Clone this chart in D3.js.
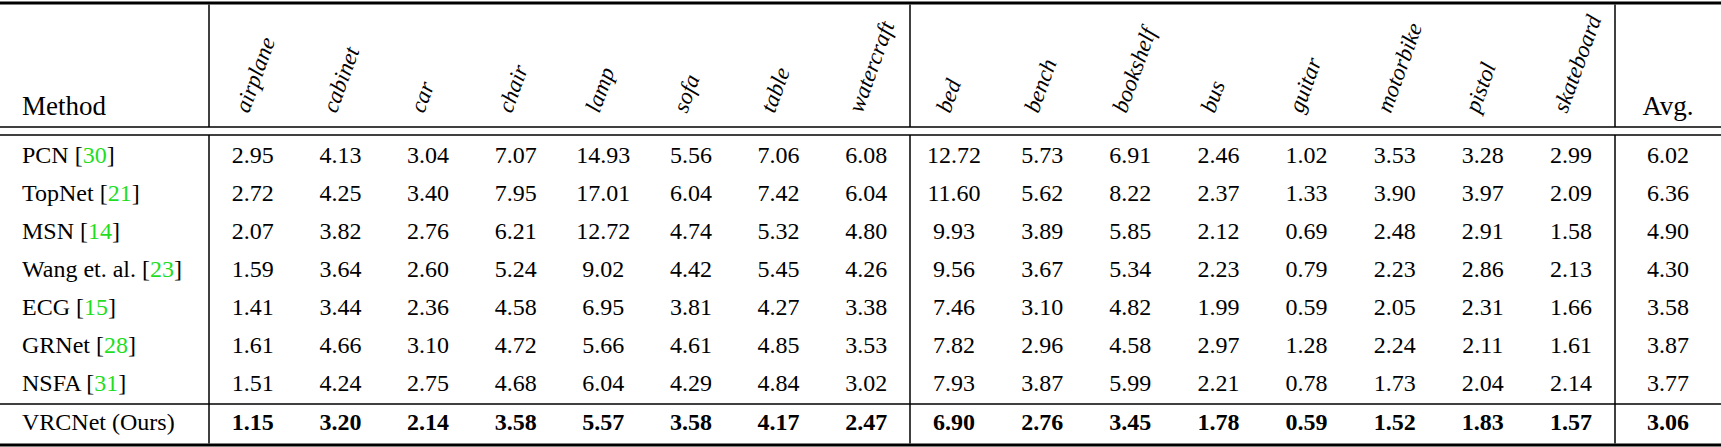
<!DOCTYPE html>
<html><head><meta charset="utf-8">
<script src="https://cdn.jsdelivr.net/npm/d3@7"></script>
<style>body{margin:0;background:#fff}svg{display:block}svg text{font-family:'Liberation Serif',Tinos,'Times New Roman','DejaVu Serif',serif}</style>
</head><body>
<div id="chart"></div>
<script>
const groupA=['airplane','cabinet','car','chair','lamp','sofa','table','watercraft'];
const groupB=['bed','bench','bookshelf','bus','guitar','motorbike','pistol','skateboard'];
const methods=['PCN','TopNet','MSN','Wang et. al.','ECG','GRNet','NSFA','VRCNet (Ours)'];
const cites=['30','21','14','23','15','28','31',null];
const values=[
  [2.95,4.13,3.04,7.07,14.93,5.56,7.06,6.08,12.72,5.73,6.91,2.46,1.02,3.53,3.28,2.99],
  [2.72,4.25,3.40,7.95,17.01,6.04,7.42,6.04,11.60,5.62,8.22,2.37,1.33,3.90,3.97,2.09],
  [2.07,3.82,2.76,6.21,12.72,4.74,5.32,4.80,9.93,3.89,5.85,2.12,0.69,2.48,2.91,1.58],
  [1.59,3.64,2.60,5.24,9.02,4.42,5.45,4.26,9.56,3.67,5.34,2.23,0.79,2.23,2.86,2.13],
  [1.41,3.44,2.36,4.58,6.95,3.81,4.27,3.38,7.46,3.10,4.82,1.99,0.59,2.05,2.31,1.66],
  [1.61,4.66,3.10,4.72,5.66,4.61,4.85,3.53,7.82,2.96,4.58,2.97,1.28,2.24,2.11,1.61],
  [1.51,4.24,2.75,4.68,6.04,4.29,4.84,3.02,7.93,3.87,5.99,2.21,0.78,1.73,2.04,2.14],
  [1.15,3.20,2.14,3.58,5.57,3.58,4.17,2.47,6.90,2.76,3.45,1.78,0.59,1.52,1.83,1.57]
];
const avg=[6.02,6.36,4.90,4.30,3.58,3.87,3.77,3.06];

const W=1721,H=447;
const svg=d3.select('#chart').append('svg').attr('width',W).attr('height',H);

const cats=groupA.concat(groupB);
const xa=d3.scaleBand().domain(groupA).range([209,910]);
const xb=d3.scaleBand().domain(groupB).range([910,1615]);
const xc=c=>(groupA.includes(c)?xa(c)+xa.bandwidth()/2:xb(c)+xb.bandwidth()/2);
const y=d3.scaleLinear().domain([0,6]).range([163,391]);
const yRow=i=>i<7?y(i):430;

// rules
const line=(x1,y1,x2,y2,w)=>svg.append('line').attr('x1',x1).attr('y1',y1).attr('x2',x2).attr('y2',y2)
  .attr('stroke','#000').attr('stroke-width',w);
line(0,3,W,3,3);
line(0,127,W,127,1.5);
line(0,135,W,135,1.5);
line(0,404,W,404,1.5);
line(0,445,W,445,3);
[209,910,1615].forEach(x=>{line(x,4.5,x,127,1.5);line(x,135,x,443.5,1.5);});

// header
svg.append('text').attr('x',22).attr('y',115).style('font-size','27px').text('Method');
svg.append('text').attr('x',1668).attr('y',115).attr('text-anchor','middle').style('font-size','27px').text('Avg.');
svg.selectAll('.hdr').data(cats).enter().append('text')
  .attr('transform',d=>`translate(${xc(d)-4},114) rotate(-70)`)
  .style('font-size','23px').style('font-style','italic').text(d=>d);

// rows
methods.forEach((m,i)=>{
  const t=svg.append('text').attr('x',22).attr('y',yRow(i)).style('font-size','24px');
  t.append('tspan').text(m+(cites[i]?' [':''));
  if(cites[i]){t.append('tspan').attr('fill','#1fdd1f').text(cites[i]);t.append('tspan').text(']');}
  const bold=i===7?'bold':'normal';
  svg.selectAll(null).data(values[i]).enter().append('text')
    .attr('x',(d,j)=>xc(cats[j])).attr('y',yRow(i)).attr('text-anchor','middle')
    .style('font-size','24px').style('font-weight',bold).text(d=>d.toFixed(2));
  svg.append('text').attr('x',1668).attr('y',yRow(i)).attr('text-anchor','middle')
    .style('font-size','24px').style('font-weight',bold).text(avg[i].toFixed(2));
});
</script>
</body></html>
